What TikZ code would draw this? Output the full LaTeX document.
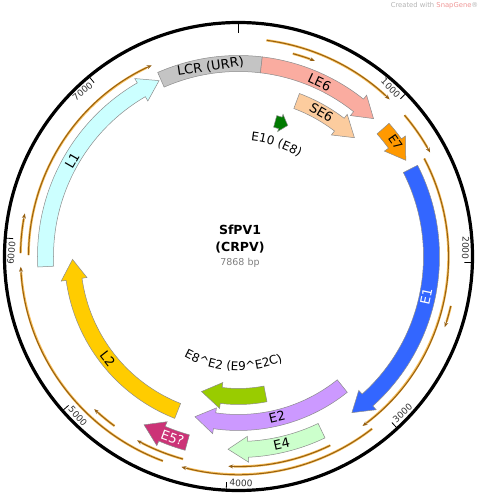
\documentclass[tikz,border=0pt]{standalone}
\usepackage{fontspec}
\setmainfont{DejaVu Sans}
\usetikzlibrary{arrows.meta,decorations.text}
\definecolor{clcr}{RGB}{196,196,196}
\definecolor{cle6}{RGB}{250,172,160}
\definecolor{cse6}{RGB}{252,204,158}
\definecolor{ce10}{RGB}{0,122,0}
\definecolor{ce7}{RGB}{255,153,0}
\definecolor{ce1}{RGB}{51,102,255}
\definecolor{ce2}{RGB}{204,153,255}
\definecolor{ce8}{RGB}{153,204,0}
\definecolor{ce4}{RGB}{204,255,204}
\definecolor{ce5}{RGB}{204,51,119}
\definecolor{cl2}{RGB}{255,204,0}
\definecolor{cl1}{RGB}{204,255,255}
\definecolor{orfc}{RGB}{150,95,15}
\definecolor{orfh}{RGB}{247,190,90}
\definecolor{wmgray}{RGB}{180,180,180}
\definecolor{wmred}{RGB}{240,150,150}
% feature with arrow head: style, t1, t2, rmid, head deg, half width, wing
\newcommand\plasfeat[7]{%
  \pgfmathsetmacro\pfa{90-(#2)}%
  \pgfmathsetmacro\pfb{90-(#3)+(#5)}%
  \pgfmathsetmacro\pfc{90-(#3)}%
  \pgfmathsetmacro\pfro{#4+#6}%
  \pgfmathsetmacro\pfri{#4-#6}%
  \pgfmathsetmacro\pfrw{#4+#6+#7}%
  \pgfmathsetmacro\pfrv{#4-#6-#7}%
  \draw[#1] (\pfa:\pfro pt) arc[start angle=\pfa, end angle=\pfb, radius=\pfro pt]
    -- (\pfb:\pfrw pt) -- (\pfc:#4 pt) -- (\pfb:\pfrv pt) -- (\pfb:\pfri pt)
    arc[start angle=\pfb, end angle=\pfa, radius=\pfri pt] -- cycle;}
% plain band: style, t1, t2, rmid, half width
\newcommand\plasband[5]{%
  \pgfmathsetmacro\pfa{90-(#2)}%
  \pgfmathsetmacro\pfc{90-(#3)}%
  \pgfmathsetmacro\pfro{#4+#5}%
  \pgfmathsetmacro\pfri{#4-#5}%
  \draw[#1] (\pfa:\pfro pt) arc[start angle=\pfa, end angle=\pfc, radius=\pfro pt]
    -- (\pfc:\pfri pt) arc[start angle=\pfc, end angle=\pfa, radius=\pfri pt] -- cycle;}
% ORF thin arrow: t1, t2, r
\newcommand\plasorf[3]{%
  \pgfmathsetmacro\poa{90-(#1)}%
  \pgfmathsetmacro\pob{90-(#2)}%
  \pgfmathsetmacro\poc{90-(#2)+1.5}%
  \draw[orfhalo] (\poa:#3 pt) arc[start angle=\poa, end angle=\poc, radius=#3 pt];
  \draw[orfcore] (\poa:#3 pt) arc[start angle=\poa, end angle=\pob, radius=#3 pt];}
\begin{document}
\begin{tikzpicture}[x=1pt,y=1pt,
  featline/.style={draw=black!45, line width=0.5pt},
  flabel/.style={font=\fontsize{13}{15}\selectfont, inner sep=0pt},
  ticklab/.style={font=\fontsize{9}{10}\selectfont, text=black!80, inner sep=0pt},
  tickline/.style={line width=0.8pt, black},
  orfhalo/.style={line width=2.4pt, orfh},
  orfcore/.style={line width=1pt, orfc, -{Stealth[length=5pt,width=4pt]}}]
\useasboundingbox (-238.5,-239.5) rectangle (243.5,256.5);
\fill[white] (-238.5,-239.5) rectangle (243.5,256.5);

% backbone circle and ticks
\draw[line width=3.2pt] (0,0) circle[radius=234pt];
\draw[line width=1.2pt] (90:235pt) -- (90:224pt);
\foreach \tdeg in {45.755,91.510,137.265,183.020,228.775,274.530,320.285}{
  \pgfmathsetmacro\tphi{90-\tdeg}
  \draw[tickline] (\tphi:233pt) -- (\tphi:226pt);}
\node[ticklab, rotate=-45.755, anchor=base east] (k1) at (45.0:223.5pt) {1000};
\node[ticklab, rotate=-91.51, anchor=base east] (k2) at (-0.8:223.5pt) {2000};
\node[ticklab, rotate=42.735, anchor=base west] (k3) at (-46.6:229.5pt) {3000};
\node[ticklab, rotate=-3.02, anchor=base west] (k4) at (-92.3:229.5pt) {4000};
\node[ticklab, rotate=-48.775, anchor=base west] (k5) at (-138.1:229.5pt) {5000};
\node[ticklab, rotate=-274.53, anchor=base east] (k6) at (-183.8:223.5pt) {6000};
\node[ticklab, rotate=-320.285, anchor=base east] (k7) at (-229.6:223.5pt) {7000};

% ORFs
\plasorf{7.4}{43.9}{218}
\plasorf{49.6}{61.5}{218}
\plasorf{103.1}{108.9}{218}
\plasorf{142.2}{195.2}{218}
\plasorf{200.3}{267.3}{218}
\plasorf{270.9}{281.4}{218}
\plasorf{15}{21.3}{210}
\plasorf{62.2}{143.8}{210}
\plasorf{154.1}{182.8}{210}
\plasorf{195.3}{208.9}{210}
\plasorf{216.2}{223.4}{210}
\plasorf{270.4}{335.6}{210}

% features
\plasband{featline, fill=clcr}{-23.7}{6.8}{193}{8}
\plasfeat{featline, fill=cle6}{6.8}{44.4}{193}{5.94}{8}{5}
\plasfeat{featline, fill=cse6}{20.5}{44.3}{166}{6.9}{8}{5}
\plasfeat{featline, fill=ce10}{15.2}{20.6}{140}{3.2}{6}{3}
\plasfeat{featline, fill=ce7}{48.5}{60.1}{193}{5.94}{8}{5}
\plasfeat{featline, fill=ce1}{63}{144}{193}{5.94}{8}{5}
\plasfeat{featline, fill=ce2}{141.3}{195.2}{166}{6.9}{8}{5}
\plasfeat{featline, fill=ce8}{168.9}{195.3}{140}{8.2}{8}{5}
\plasfeat{featline, fill=ce4}{154.5}{183.1}{193}{5.94}{8}{5}
\plasfeat{featline, fill=ce5}{195.4}{209.3}{193}{5.94}{8}{5}
\plasfeat{featline, fill=cl2}{201.5}{269}{166}{6.9}{8}{5}
\plasfeat{featline, fill=cl1}{-93}{-24.3}{193}{5.94}{8}{5}

% feature labels
\node[flabel, rotate=8.4] (lcr) at (98.4:192pt) {LCR (URR)};
\node[flabel, rotate=-25] (le6) at (65:192pt) {LE6};
\node[flabel, rotate=-30] (se6) at (60:166pt) {SE6};
\node[flabel, rotate=-55, font=\fontsize{12}{14}\selectfont] (e7) at (36:194pt) {E7};
\node[flabel, rotate=78, text=white] (e1) at (-12:192pt) {E1};
\node[flabel, rotate=13.5] (e2) at (-76.5:165pt) {E2};
\node[flabel, rotate=13] (e4) at (-77:192pt) {E4};
\node[flabel, rotate=-20, text=white] (e5) at (-110:193pt) {E5?};
\node[flabel, rotate=-52] (l2) at (-142:166pt) {L2};
\node[flabel, rotate=60] (l1) at (150:192pt) {L1};

% curved labels
\path[decorate, decoration={text along path, text align=center,
  text={|\fontsize{12}{14}\selectfont|E8{\textasciicircum}E2 (E9{\textasciicircum}E2C)}}]
  (-127.8:114pt) arc[start angle=-127.8, end angle=-57.8, radius=114pt];
\path[decorate, decoration={text along path, text align=center,
  text={|\fontsize{12}{14}\selectfont|E10 (E8)}}]
  (96.3:116.5pt) arc[start angle=96.3, end angle=46.3, radius=116.5pt];

% title
\node[font=\bfseries\fontsize{12.5}{14}\selectfont, inner sep=0pt] (t1) at (1.5,26.5) {SfPV1};
\node[font=\bfseries\fontsize{12.5}{14}\selectfont, inner sep=0pt] (t2) at (1.5,8.5) {(CRPV)};
\node[font=\fontsize{9.5}{11}\selectfont, text=black!50, inner sep=0pt] (t3) at (1.5,-6.5) {7868 bp};

% watermark
\node[font=\fontsize{6.8}{8}\selectfont, inner sep=0pt, anchor=east] (wm) at (240,250.5)
  {\textcolor{wmgray}{Created with }\textcolor{wmred}{SnapGene}\textcolor{wmgray}{®}};
\end{tikzpicture}
\end{document}
